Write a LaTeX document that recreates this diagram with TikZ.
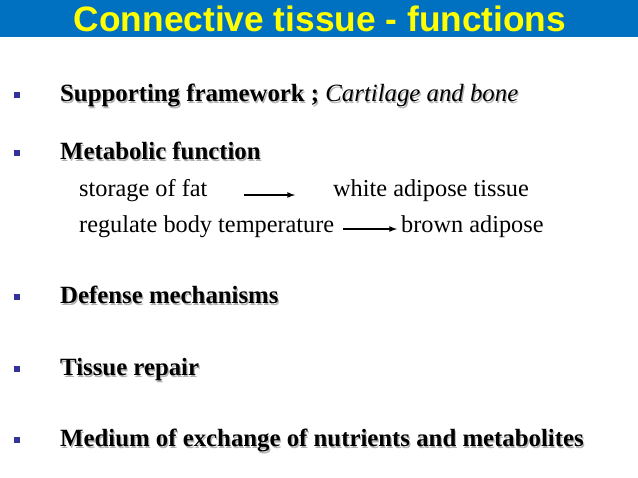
\documentclass[tikz,border=0pt]{standalone}
\usepackage{fontspec}
\setmainfont{Liberation Serif}
\newfontfamily\arialf{Liberation Sans}
\definecolor{titleblue}{HTML}{0070C0}
\definecolor{titleyellow}{HTML}{FFFF00}
\definecolor{bulletblue}{HTML}{333399}
\begin{document}
\begin{tikzpicture}[x=1pt,y=-1pt,
  bul/.style={fill=bulletblue,minimum size=6pt,inner sep=0pt},
  head/.style={anchor=base west,inner sep=0pt,font=\fontsize{24.8}{28}\selectfont\bfseries},
  shad/.style={anchor=base west,inner sep=0pt,font=\fontsize{24.8}{28}\selectfont\bfseries,text=black!30},
  sub/.style={anchor=base west,inner sep=0pt,font=\fontsize{24.3}{28}\selectfont},
  arr/.style={-latex,line width=1.6pt}]
\useasboundingbox (0,0) rectangle (638,478);
\fill[titleblue] (0,0) rectangle (638,37);
\node[text=titleyellow,font=\arialf\bfseries\fontsize{35.3}{38}\selectfont] (title) at (320,19) {Connective tissue - functions};
\foreach \y/\t [count=\i] in {102/{Supporting framework ; \textit{\mdseries Cartilage and bone}},160/{Metabolic function},304/{Defense mechanisms},376/{Tissue repair},447/{Medium of exchange of nutrients and metabolites}}{
  \node[bul] (b\i) at (17,\y-7) {};
  \node[shad] at (61.2,\y+1.2) {\t};
  \node[head] (h\i) at (60,\y) {\t};
}
\node[sub] (s1) at (79,197) {storage of fat};
\node[sub] (w1) at (333,197) {white adipose tissue};
\node[sub] (s2) at (79,233) {regulate body temperature};
\node[sub] (w2) at (401,233) {brown adipose};
\coordinate (a1) at (244,195); \coordinate (a1e) at (295,195);
\coordinate (a2) at (343,229); \coordinate (a2e) at (397,229);
\draw[arr] (a1) -- (a1e);
\draw[arr] (a2) -- (a2e);
\end{tikzpicture}
\end{document}
